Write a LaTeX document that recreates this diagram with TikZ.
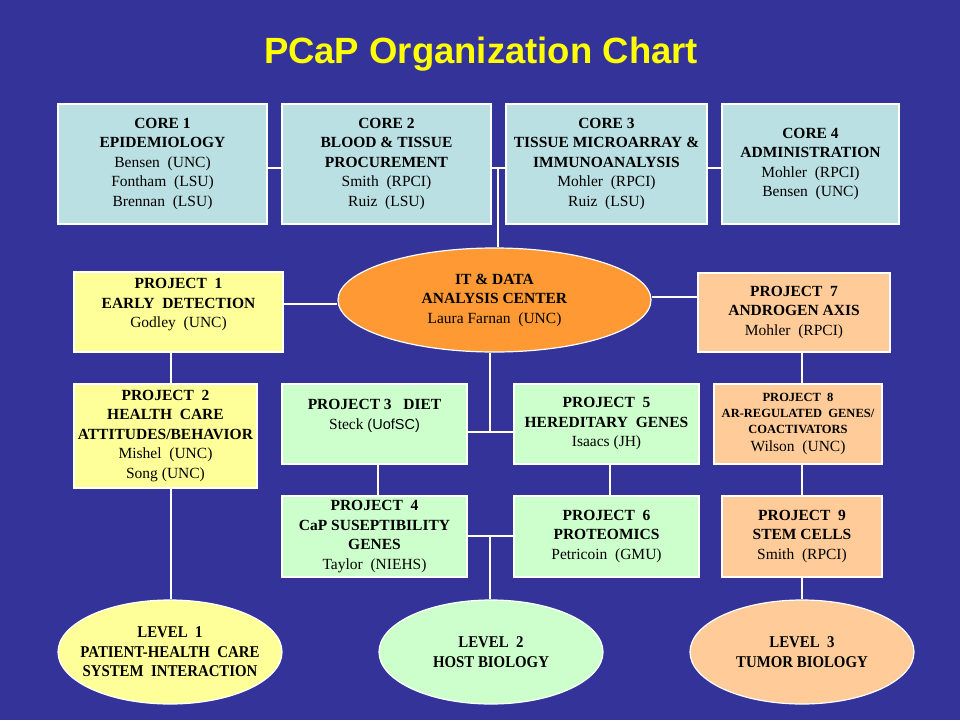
\documentclass[tikz,border=0pt]{standalone}
\usepackage{fontspec}
\setmainfont{Liberation Serif}
\newfontfamily\sansf{Liberation Sans}
\newfontfamily\condf[FakeStretch=0.9]{Liberation Serif}
\usetikzlibrary{shapes.geometric}
\definecolor{bgblue}{RGB}{51,51,153}
\definecolor{corecol}{RGB}{187,224,227}
\definecolor{yelcol}{RGB}{255,255,153}
\definecolor{grncol}{RGB}{204,255,204}
\definecolor{peachcol}{RGB}{255,204,153}
\definecolor{orgcol}{RGB}{255,153,51}
\definecolor{titlecol}{RGB}{255,255,0}
\newcommand\smallbf[1]{{\fontsize{12.5}{16}\selectfont\bfseries #1}}
\tikzset{
  box/.style={draw=white, line width=1.2pt, rectangle, inner sep=0pt, align=center,
    font=\fontsize{15.5}{19.5}\selectfont, text=black},
  corebox/.style={box, fill=corecol},
  yelbox/.style={box, fill=yelcol},
  grnbox/.style={box, fill=grncol},
  peachbox/.style={box, fill=peachcol},
  oval/.style={draw=white, line width=1.2pt, ellipse, inner sep=-25pt, align=center,
    font=\fontsize{15.5}{19.5}\selectfont, text=black},
  lvl/.style={oval, font=\condf\fontsize{16.5}{19.5}\selectfont},
  conn/.style={draw=white, line width=1.2pt}
}
\begin{document}
\begin{tikzpicture}[x=1pt,y=-1pt]
\fill[bgblue] (0,0) rectangle (960,720);
\useasboundingbox (0,0) rectangle (960,720);

\node[anchor=base, text=titlecol, font=\sansf\bfseries\fontsize{36.5}{40}\selectfont] (title) at (481,63) {PCaP Organization Chart};

% cores
\node[corebox, minimum width=209pt, minimum height=120pt] (c1) at (162.5,164)
  {\textbf{CORE 1}\\ \textbf{EPIDEMIOLOGY}\\ Bensen\ \ (UNC)\\ Fontham\ \ (LSU)\\ Brennan\ \ (LSU)};
\node[corebox, minimum width=209pt, minimum height=120pt] (c2) at (386.5,164)
  {\textbf{CORE 2}\\ \textbf{BLOOD \& TISSUE}\\ \textbf{PROCUREMENT}\\ Smith\ \ (RPCI)\\ Ruiz\ \ (LSU)};
\node[corebox, minimum width=201pt, minimum height=120pt] (c3) at (606.5,164)
  {\textbf{CORE 3}\\ \textbf{TISSUE MICROARRAY \&}\\ \textbf{IMMUNOANALYSIS}\\ Mohler\ \ (RPCI)\\ Ruiz\ \ (LSU)};
\node[corebox, minimum width=177pt, minimum height=120pt] (c4) at (810.5,164)
  {\textbf{CORE 4}\\ \textbf{ADMINISTRATION}\\ Mohler\ \ (RPCI)\\ Bensen\ \ (UNC)};

% IT center
\node[oval, fill=orgcol, minimum width=313pt, minimum height=104pt] (it) at (494.5,300)
  {\textbf{IT \& DATA}\\ \textbf{ANALYSIS CENTER}\\ Laura Farnan\ \ (UNC)};

% projects
\node[yelbox, minimum width=209pt, minimum height=80pt] (p1) at (178.5,312)
  {\textbf{PROJECT\ \ 1}\\ \textbf{EARLY\ \ DETECTION}\\ Godley\ \ (UNC)\\[-2pt] ~};
\node[peachbox, minimum width=192pt, minimum height=79pt] (p7) at (794,312.5)
  {\textbf{PROJECT\ \ 7}\\ \textbf{ANDROGEN AXIS}\\ Mohler\ \ (RPCI)};
\node[yelbox, minimum width=183pt, minimum height=104pt] (p2) at (165.5,436)
  {\textbf{PROJECT\ \ 2}\\ \textbf{HEALTH\ \ CARE}\\ \textbf{ATTITUDES/BEHAVIOR}\\ Mishel\ \ (UNC)\\ Song (UNC)};
\node[grnbox, minimum width=185pt, minimum height=80pt] (p3) at (374.5,424)
  {\textbf{PROJECT 3\ \ \ DIET}\\ Steck {\sansf\fontsize{14.5}{19.5}\selectfont (UofSC)}\\ ~};
\node[grnbox, minimum width=185pt, minimum height=80pt] (p5) at (606.5,424)
  {\textbf{PROJECT\ \ 5}\\ \textbf{HEREDITARY\ \ GENES}\\ Isaacs (JH)};
\node[peachbox, minimum width=168pt, minimum height=80pt] (p8) at (798,424)
  {\smallbf{PROJECT\ \ 8}\\[-3.5pt] \smallbf{AR-REGULATED\ \ GENES/}\\[-3.5pt] \smallbf{COACTIVATORS}\\[-1pt] Wilson\ \ (UNC)};
\node[grnbox, minimum width=185pt, minimum height=81pt] (p4) at (374.5,536.5)
  {\textbf{PROJECT\ \ 4}\\ \textbf{CaP SUSEPTIBILITY}\\ \textbf{GENES}\\ Taylor\ \ (NIEHS)};
\node[grnbox, minimum width=185pt, minimum height=81pt] (p6) at (606.5,536.5)
  {\textbf{PROJECT\ \ 6}\\ \textbf{PROTEOMICS}\\ Petricoin\ \ (GMU)};
\node[peachbox, minimum width=160pt, minimum height=81pt] (p9) at (802,536.5)
  {\textbf{PROJECT\ \ 9}\\ \textbf{STEM CELLS}\\ Smith\ \ (RPCI)};

% levels
\node[lvl, fill=yelcol, minimum width=224pt, minimum height=104pt] (l1) at (170,652)
  {\textbf{LEVEL\ \ 1}\\ \textbf{PATIENT-HEALTH\ \ CARE}\\ \textbf{SYSTEM\ \ INTERACTION}};
\node[lvl, fill=grncol, minimum width=224pt, minimum height=104pt] (l2) at (491,652)
  {\textbf{LEVEL\ \ 2}\\ \textbf{HOST BIOLOGY}};
\node[lvl, fill=peachcol, minimum width=224pt, minimum height=104pt] (l3) at (802,652)
  {\textbf{LEVEL\ \ 3}\\ \textbf{TUMOR BIOLOGY}};

% junction coordinates
\coordinate (j1) at (498,168);
\coordinate (j2) at (490,432);
\coordinate (j3) at (490,536);
\coordinate (xa) at (171,0);
\coordinate (xb) at (378,0);
\coordinate (xc) at (610,0);
\coordinate (xd) at (802,0);

% connectors
\draw[conn] ([yshift=-4pt]c1.east) -- ([yshift=-4pt]c2.west);
\draw[conn] ([yshift=-4pt]c2.east) -- ([yshift=-4pt]c3.west);
\draw[conn] ([yshift=-4pt]c3.east) -- ([yshift=-4pt]c4.west);
\draw[conn] (j1) -- (j1 |- it.north);
\draw[conn] ([yshift=8pt]p1.east) -- ([yshift=-4pt]it.west);
\draw[conn] ([yshift=3pt]it.east) -- ([yshift=15.5pt]p7.west);
\draw[conn] (p1.south -| xa) -- (p2.north -| xa);
\draw[conn] (p2.south -| xa) -- (l1.north -| xa);
\draw[conn] (it.south -| j2) -- (j2);
\draw[conn] ([yshift=-8pt]p3.east) -- ([yshift=-8pt]p5.west);
\draw[conn] (p3.south -| xb) -- (p4.north -| xb);
\draw[conn] (p5.south -| xc) -- (p6.north -| xc);
\draw[conn] (p4.east |- j3) -- (p6.west |- j3);
\draw[conn] (j3) -- (l2.north -| j3);
\draw[conn] (p7.south -| xd) -- (p8.north -| xd);
\draw[conn] (p8.south -| xd) -- (p9.north -| xd);
\draw[conn] (p9.south -| xd) -- (l3.north -| xd);
\end{tikzpicture}
\end{document}
